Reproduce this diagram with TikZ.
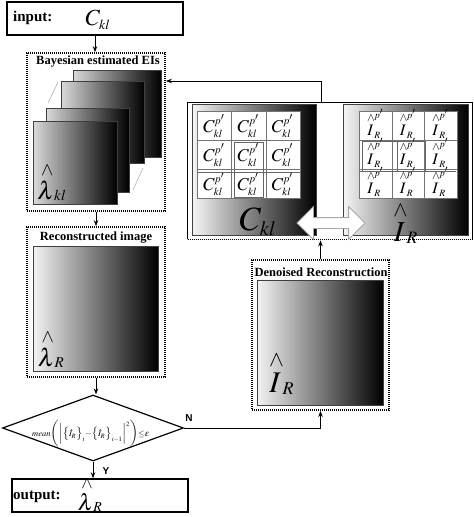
\documentclass[tikz,border=0pt]{standalone}
\usepackage{mathptmx}
\usepackage{graphicx}
\usepackage{fontspec}
\setmainfont{Liberation Serif}
\setsansfont{Liberation Sans}
\usetikzlibrary{shapes.geometric,shapes.arrows,arrows.meta}
\newcommand{\hatsym}[1]{\stackrel{\wedge}{#1}}
\begin{document}
\begin{tikzpicture}[x=1pt,y=-1pt,
  >={Stealth[length=6pt,width=4.5pt]},
  iobox/.style={draw, line width=1.4pt, minimum width=176pt, minimum height=33pt, inner sep=0pt},
  dbox/.style={draw, line width=1.8pt, dash pattern=on 1.1pt off 0.9pt, inner sep=0pt},
  ttl/.style={font=\fontsize{12.5}{13}\selectfont\bfseries, inner sep=0pt},
  img/.style={draw=black!75, line width=0.6pt, left color=gray!10, right color=black, inner sep=0pt, anchor=north west},
  stack/.style={img, left color=gray!30},
  cellbox/.style={draw=black!55, fill=white, line width=0.5pt, inner sep=0pt, anchor=north west},
  hl/.style={draw=black!60, line width=0.8pt},
  conn/.style={line width=0.9pt, ->},
  lbl/.style={inner sep=0pt},
  yn/.style={font=\sffamily\bfseries\fontsize{10}{10}\selectfont, inner sep=0pt}]
\useasboundingbox (0,0) rectangle (474,517);

% input
\node[iobox] (input) at (95,18.5) {};
\node[lbl, anchor=west, font=\fontsize{15}{15}\selectfont\bfseries] (inlab) at (13,18) {input:};
\node[lbl, font=\fontsize{23}{23}\selectfont] (inC) at (98,20) {$C_{\scriptscriptstyle kl}$};

% Bayesian estimated EIs
\node[dbox, minimum width=138pt, minimum height=158pt] (bayes) at (96,132) {};
\node[ttl] (bayest) at (98,62) {Bayesian estimated EIs};
\node[stack, minimum width=88pt, minimum height=87pt] (ei4) at (73,70) {};
\node[stack, minimum width=83pt, minimum height=82pt] (ei3) at (61,81) {};
\node[stack, minimum width=83pt, minimum height=84pt] (ei2) at (46,108) {};
\node[stack, minimum width=84pt, minimum height=83pt] (ei1) at (33,121) {};
\draw[gray!60, line width=0.6pt] (48,103) -- (58,82);
\draw[gray!60, line width=0.6pt] (133,190) -- (143,168);
\node[lbl, font=\fontsize{25}{25}\selectfont] (lamkl) at (52,182) {$\hatsym{\lambda}_{\scriptscriptstyle kl}$};

% Reconstructed image
\node[dbox, minimum width=138pt, minimum height=150pt] (recon) at (96,302) {};
\node[ttl] (recont) at (96,238) {Reconstructed image};
\node[img, minimum width=125pt, minimum height=125pt] (reconimg) at (33,246) {};
\node[lbl, font=\fontsize{25}{25}\selectfont] (lamR) at (51,349) {$\hatsym{\lambda}_{\scriptscriptstyle R}$};

% decision diamond
\node[diamond, draw, line width=1.2pt, minimum width=181pt, minimum height=66pt, inner sep=0pt] (diam) at (93,428) {};
\node[lbl, anchor=west, font=\fontsize{12}{12}\selectfont] (cond) at (32,434)
  {\resizebox{117pt}{!}{$\scriptstyle mean\biggl(\Bigl|\bigl\{\hat{I}_{\scriptscriptstyle R}\bigr\}_{\scriptscriptstyle i}-\bigl\{\hat{I}_{\scriptscriptstyle R}\bigr\}_{\scriptscriptstyle i-1}\Bigr|^{\scriptscriptstyle 2}\biggr)\le\varepsilon$}};
\node[yn] (nlab) at (189,418) {N};
\node[yn] (ylab) at (106,471) {Y};

% output
\node[iobox] (output) at (100,495.5) {};
\node[lbl, anchor=west, font=\fontsize{15}{15}\selectfont\bfseries] (outlab) at (13,497) {output:};
\node[lbl, font=\fontsize{23}{23}\selectfont] (outlam) at (90,494) {$\hatsym{\lambda}_{\scriptscriptstyle R}$};

% right panel
\node[dbox, minimum width=285pt, minimum height=137pt] (panel) at (330,171) {};
\node[img, left color=gray!8, minimum width=124pt, minimum height=131pt] (subL) at (192,104) {};
\node[img, left color=gray!8, minimum width=125pt, minimum height=131pt] (subR) at (343,104) {};

% left grid
\foreach \i in {0,1,2} {
  \foreach \j in {0,1,2} {
    \node[cellbox, minimum width=34.3pt, minimum height=29pt] (lc\i\j) at ({197+34.3*\i},{111+29*\j}) {};
    \node[lbl, font=\fontsize{18}{18}\selectfont] (lt\i\j) at ({214+34.3*\i},{126+29*\j}) {$C^{\scriptscriptstyle p'}_{\scriptscriptstyle kl}$};
  }
}
\draw[hl] (234,142) rectangle (263,197);
\draw[hl] (197,172) -- (300,172);

% right grid
\foreach \i in {0,1,2} {
  \foreach \j in {0,1,2} {
    \node[cellbox, minimum width=32.5pt, minimum height=29pt] (rc\i\j) at ({359+32.5*\i},{111+29*\j}) {};
    \node[lbl, font=\fontsize{16}{16}\selectfont] (rt\i\j) at ({375+32.5*\i},{124+29*\j}) {$\hatsym{I}^{\scriptscriptstyle p'}_{\scriptscriptstyle R}$};
  }
}
\draw[hl] (362,141) rectangle (425,171);
\draw[hl] (397,141) -- (397,171);
\draw[hl] (359,171) -- (456,171);

\node[lbl, font=\fontsize{34}{34}\selectfont] (bigC) at (258,222) {$C_{\scriptscriptstyle kl}$};
\node[lbl, font=\fontsize{29}{29}\selectfont] (bigI) at (405,223) {$\hatsym{I}_{\scriptscriptstyle R}$};
\node[double arrow, draw=gray!70, fill=white, line width=0.8pt, inner sep=5pt,
      minimum height=68pt, double arrow head extend=11pt] (darr) at (331,223) {};

% Denoised reconstruction
\node[dbox, minimum width=137pt, minimum height=150pt] (denoise) at (320.5,335) {};
\node[ttl] (dent) at (321,272) {Denoised Reconstruction};
\node[img, minimum width=126pt, minimum height=125pt] (denimg) at (257,280) {};
\node[lbl, font=\fontsize{30}{30}\selectfont] (denI) at (281,373) {$\hatsym{I}_{\scriptscriptstyle R}$};

% connectors
\draw[conn] (input.south) -- (input.south |- bayes.north);
\draw[conn] (bayes.south) -- (bayes.south |- recon.north);
\draw[conn] (recon.south) -- (recon.south |- diam.north);
\draw[conn] (diam.south) -- (diam.south |- output.north);
\coordinate (c2) at (denoise.south |- diam.east);
\draw[conn] (diam.east) -- (c2) -- (denoise.south);
\draw[conn] (denoise.north) -- (denoise.north |- panel.south);
\coordinate (c1) at (321,81);
\draw[conn] (c1 |- panel.north) -- (c1) -- (c1 -| bayes.east);
\end{tikzpicture}
\end{document}
